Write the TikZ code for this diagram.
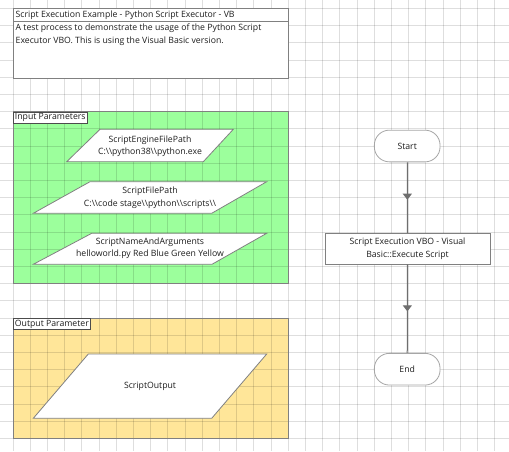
\documentclass[tikz,border=0pt]{standalone}
\usepackage{fontspec}
\setmainfont{Open Sans}
\usetikzlibrary{arrows.meta}
\usetikzlibrary{decorations.markings}
\definecolor{InputGreen}{HTML}{9CFF9C}
\definecolor{OutputYellow}{HTML}{FFE699}
\definecolor{EdgeGrey}{HTML}{808080}
\definecolor{FlowGrey}{HTML}{6E6E6E}
\definecolor{TextDark}{HTML}{1E1E1E}
\tikzstyle{GridLine}=[black, opacity=0.13, line width=1pt]
\tikzstyle{AreaEdge}=[draw=EdgeGrey, line width=1pt]
\tikzstyle{AreaLabel}=[rectangle, draw=black!70, fill=white, line width=0.8pt, inner xsep=1.5pt, inner ysep=1.5pt, anchor=north west, text=TextDark]
\tikzstyle{ParamShape}=[draw=EdgeGrey, fill=white, line width=0.8pt]
\tikzstyle{ParamText}=[align=center, text=TextDark, inner sep=0pt]
\tikzstyle{Terminal}=[rectangle, rounded corners=15pt, draw=black!35, fill=white, line width=0.8pt, minimum width=65.7pt, minimum height=31.7pt, text=TextDark]
\tikzstyle{Action}=[rectangle, draw=EdgeGrey, fill=white, line width=0.8pt, minimum width=165pt, minimum height=30.7pt, align=center, text=TextDark]
\tikzstyle{FlowEdge}=[draw=FlowGrey, line width=1pt, postaction={decorate}, decoration={markings, mark=at position 0.53 with {\arrow[FlowGrey]{Triangle[width=9pt,length=6pt]}}}]
\tikzset{every node/.style={font=\fontsize{8.7}{12.8}\selectfont}}

\begin{document}
\begin{tikzpicture}[x=1pt,y=-1pt]
\useasboundingbox (0,0) rectangle (509,451);
\fill[white] (0,0) rectangle (509,451);

% parameter areas
\fill[InputGreen] (13,111.6) rectangle (288.2,283.6);
\fill[OutputYellow] (13,318) rectangle (288.2,438.4);

% grid
\foreach \i in {0,...,28}
  \draw[GridLine] ({13+17.2*\i},0) -- ({13+17.2*\i},451);
\foreach \j in {0,...,25}
  \draw[GridLine] (0,{8.4+17.2*\j}) -- (509,{8.4+17.2*\j});

\draw[AreaEdge] (13,111.6) rectangle (288.2,283.6);
\draw[AreaEdge] (13,318) rectangle (288.2,438.4);

% process info
\draw[AreaEdge, fill=white] (13,8.4) rectangle (288.2,78);
\draw[AreaEdge] (13,21.7) -- (288.2,21.7);
\node[anchor=west, text=TextDark, inner sep=0pt] (InfoTitle) at (15.5,15.2) {Script Execution Example - Python Script Executor - VB};
\node[anchor=north west, align=left, text=TextDark, inner sep=0pt] (InfoText) at (15.5,23.5) {A test process to demonstrate the usage of the Python Script\\Executor VBO. This is using the Visual Basic version.};

% inputs
\node[AreaLabel] (InputLabel) at (13,111.6) {Input Parameters};
\draw[ParamShape] (100,129.3) -- (233.3,129.3) -- (203.3,161.7) -- (66.7,161.7) -- cycle;
\node[ParamText] (EnginePath) at (150,146.3) {ScriptEngineFilePath\\C:\textbackslash\textbackslash python38\textbackslash\textbackslash python.exe};
\draw[ParamShape] (90,181.7) -- (266.7,181.7) -- (211.7,213.3) -- (33.3,213.3) -- cycle;
\node[ParamText] (FilePath) at (150,197.5) {ScriptFilePath\\C:\textbackslash\textbackslash code stage\textbackslash\textbackslash python\textbackslash\textbackslash scripts\textbackslash\textbackslash};
\draw[ParamShape] (91.7,233.3) -- (266.7,233.3) -- (212,264.3) -- (33.3,264.3) -- cycle;
\node[ParamText] (NameArgs) at (150,248.2) {ScriptNameAndArguments\\helloworld.py Red Blue Green Yellow};

% output
\node[AreaLabel] (OutputLabel) at (13,318) {Output Parameter};
\draw[ParamShape] (88.3,354) -- (266.7,354) -- (211.7,418.3) -- (33.3,418.3) -- cycle;
\node[ParamText] (ScriptOut) at (150,386) {ScriptOutput};

% flow
\node[Terminal] (Start) at (407.2,146) {Start};
\node[Action] (Execute) at (407.5,248.7) {Script Execution VBO - Visual\\Basic::Execute Script};
\node[Terminal] (End) at (407.2,369.2) {End};

\draw[FlowEdge] (Start) -- (Execute);
\draw[FlowEdge] (Execute) -- (End);
\end{tikzpicture}
\end{document}
